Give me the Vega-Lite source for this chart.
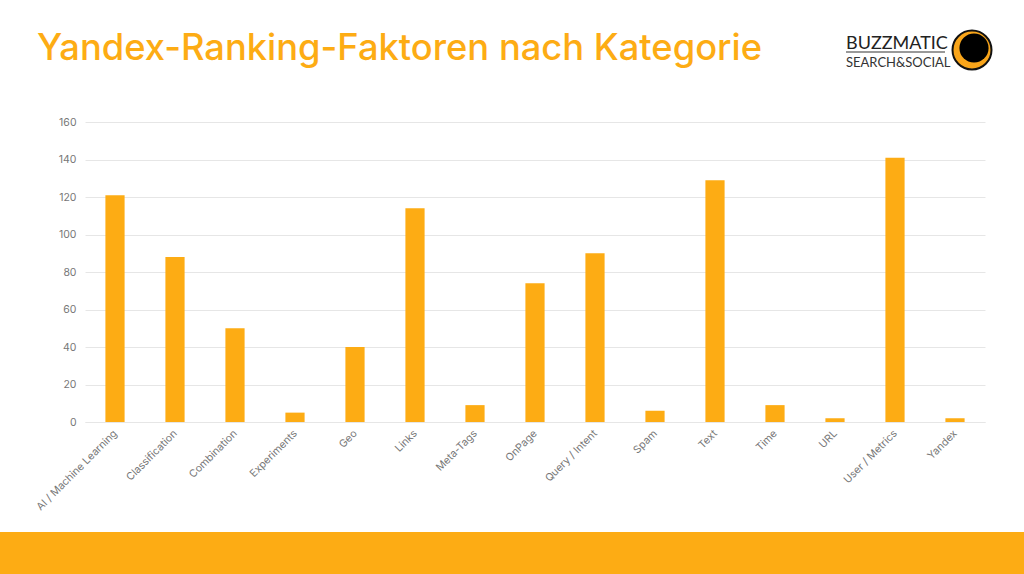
{
  "$schema": "https://vega.github.io/schema/vega-lite/v6.json",
  "width": 900,
  "height": 300,
  "autosize": "none",
  "padding": {"left": 85, "top": 122, "right": 39, "bottom": 152},
  "background": "white",
  "layer": [
    {
      "data": {
        "values": [
          {"category": "AI / Machine Learning", "count": 121},
          {"category": "Classification", "count": 88},
          {"category": "Combination", "count": 50},
          {"category": "Experiments", "count": 5},
          {"category": "Geo", "count": 40},
          {"category": "Links", "count": 114},
          {"category": "Meta-Tags", "count": 9},
          {"category": "OnPage", "count": 74},
          {"category": "Query / Intent", "count": 90},
          {"category": "Spam", "count": 6},
          {"category": "Text", "count": 129},
          {"category": "Time", "count": 9},
          {"category": "URL", "count": 2},
          {"category": "User / Metrics", "count": 141},
          {"category": "Yandex", "count": 2}
        ]
      },
      "mark": {"type": "bar", "color": "#fdac14"},
      "encoding": {
        "x": {
          "field": "category",
          "type": "nominal",
          "sort": null,
          "title": null,
          "scale": {"paddingInner": 0.68, "paddingOuter": 0.34},
          "axis": {
            "labelAngle": -45,
            "labelAlign": "right",
            "labelBaseline": "top",
            "labelFont": "Inter",
            "labelFontSize": 10.5,
            "labelColor": "#777777",
            "labelLimit": 200,
            "labelPadding": 6,
            "labelOffset": -3,
            "ticks": false,
            "domainColor": "#e6e6e6",
            "grid": false
          }
        },
        "y": {
          "field": "count",
          "type": "quantitative",
          "title": null,
          "scale": {"domain": [0, 160]},
          "axis": {
            "values": [0, 20, 40, 60, 80, 100, 120, 140, 160],
            "labelFont": "Inter",
            "labelFontSize": 10.5,
            "labelColor": "#777777",
            "labelPadding": 9,
            "ticks": false,
            "domain": false,
            "gridColor": "#e6e6e6"
          }
        }
      }
    },
    {
      "encoding": {
        "x": {"datum": 0, "type": "quantitative", "scale": {"domain": [85, 985], "nice": false, "zero": false}, "axis": null},
        "y": {"datum": 0, "type": "quantitative", "scale": {"domain": [422, 122], "nice": false, "zero": false}, "axis": null}
      },
      "layer": [
        {
          "data": {"values": [{"part": "band"}]},
          "mark": {"type": "rect", "color": "#fdac14"},
          "encoding": {
            "x": {"datum": 0, "type": "quantitative"},
            "x2": {"datum": 1024},
            "y": {"datum": 532, "type": "quantitative"},
            "y2": {"datum": 574}
          }
        },
        {
          "data": {"values": [{"label": "Yandex-Ranking-Faktoren nach Kategorie"}]},
          "mark": {"type": "text", "font": "Inter", "fontSize": 36.3, "fontWeight": 500, "color": "#fdac14", "align": "left", "baseline": "alphabetic"},
          "encoding": {
            "text": {"field": "label"},
            "x": {"datum": 37, "type": "quantitative"},
            "y": {"datum": 60, "type": "quantitative"}
          }
        },
        {
          "data": {"values": [{"part": "logo rule"}]},
          "mark": {"type": "rule", "color": "#777777", "strokeWidth": 1.5},
          "encoding": {
            "x": {"datum": 846, "type": "quantitative"},
            "x2": {"datum": 945},
            "y": {"datum": 52, "type": "quantitative"}
          }
        },
        {
          "data": {"values": [{"label": "BUZZMATIC"}]},
          "mark": {"type": "text", "font": "Lato", "fontSize": 18, "color": "#222222", "align": "left", "baseline": "alphabetic"},
          "encoding": {
            "text": {"field": "label"},
            "x": {"datum": 846, "type": "quantitative"},
            "y": {"datum": 49, "type": "quantitative"}
          }
        },
        {
          "data": {"values": [{"label": "SEARCH&SOCIAL"}]},
          "mark": {"type": "text", "font": "Lato", "fontSize": 13, "color": "#333333", "align": "left", "baseline": "alphabetic"},
          "encoding": {
            "text": {"field": "label"},
            "x": {"datum": 846, "type": "quantitative"},
            "y": {"datum": 67, "type": "quantitative"}
          }
        },
        {
          "data": {"values": [{"part": "logo ring"}]},
          "mark": {"type": "point", "shape": "circle", "filled": true, "fill": "#f9a51a", "stroke": "#111111", "strokeWidth": 2, "opacity": 1, "size": 1520},
          "encoding": {
            "x": {"datum": 972, "type": "quantitative"},
            "y": {"datum": 50, "type": "quantitative"}
          }
        },
        {
          "data": {"values": [{"part": "logo disc"}]},
          "mark": {"type": "point", "shape": "circle", "filled": true, "fill": "#000000", "opacity": 1, "size": 850},
          "encoding": {
            "x": {"datum": 974, "type": "quantitative"},
            "y": {"datum": 48, "type": "quantitative"}
          }
        }
      ]
    }
  ],
  "resolve": {"scale": {"x": "independent", "y": "independent"}},
  "config": {"view": {"stroke": null}}
}
